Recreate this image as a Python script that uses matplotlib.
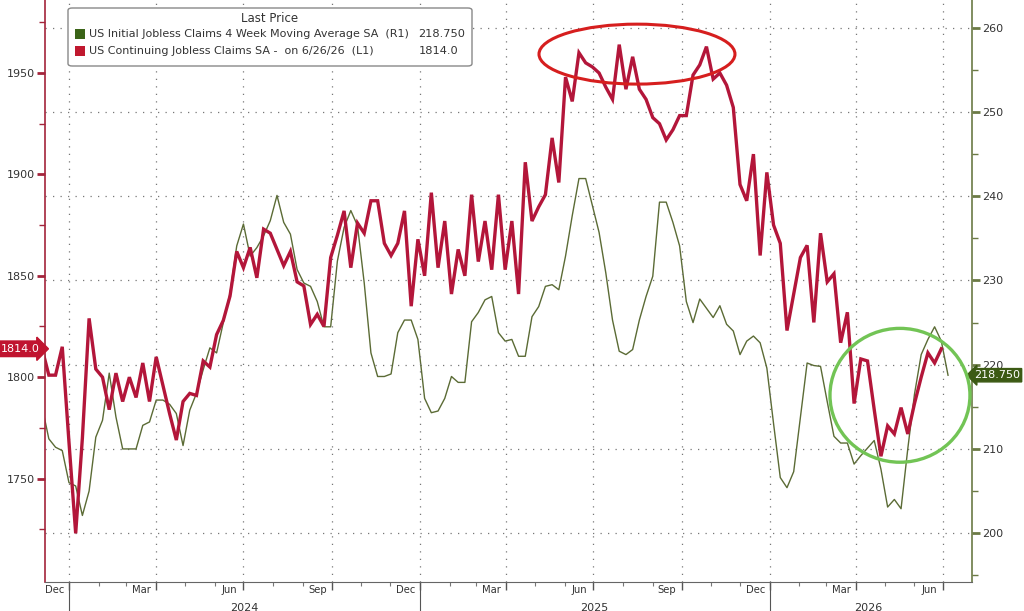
import matplotlib
matplotlib.use('Agg')
import matplotlib.pyplot as plt
import matplotlib.dates as mdates
import matplotlib.transforms as mtransforms
from matplotlib.patches import Ellipse, FancyBboxPatch, Rectangle
from matplotlib.lines import Line2D
import pandas as pd

# Weekly values (first date 2023-12-04, axis labels shown as-is)
continuing_claims = [
    1814, 1801, 1801, 1815, 1768, 1723, 1770, 1829, 1804, 1800,
    1784, 1802, 1788, 1800, 1790, 1807, 1788, 1810, 1796, 1782,
    1769, 1788, 1792, 1791, 1808, 1805, 1821, 1828, 1840, 1862,
    1854, 1864, 1849, 1873, 1871, 1863, 1855, 1862, 1847, 1845,
    1826, 1831, 1825, 1859, 1870, 1882, 1854, 1876, 1871, 1887,
    1887, 1866, 1860, 1866, 1882, 1835, 1868, 1850, 1891, 1854,
    1877, 1841, 1863, 1850, 1890, 1857, 1877, 1853, 1890, 1853,
    1877, 1841, 1906, 1877, 1884, 1890, 1918, 1896, 1948, 1936,
    1960, 1955, 1953, 1950, 1943, 1937, 1964, 1942, 1958, 1942,
    1937, 1928, 1925, 1917, 1922, 1929, 1929, 1949, 1954, 1963,
    1947, 1950, 1944, 1933, 1895, 1887, 1910, 1860, 1901, 1875,
    1866, 1823, 1841, 1859, 1865, 1827, 1871, 1847, 1851, 1817,
    1832, 1787, 1809, 1808, 1784, 1761, 1776, 1772, 1785, 1772,
    1787, 1800, 1812, 1807, 1814.0,
]

initial_claims_4wk = [
    215.0, 211.2, 210.2, 209.8, 206.0, 205.6, 202.1, 205.0, 211.4, 213.4,
    219.0, 213.8, 210.0, 210.0, 210.0, 212.8, 213.2, 215.8, 215.8, 215.3,
    214.2, 210.4, 214.6, 216.6, 219.4, 222.0, 221.4, 225.0, 228.5, 234.1,
    236.7, 232.9, 233.9, 235.3, 237.1, 240.1, 236.9, 235.5, 231.3, 229.7,
    229.3, 227.5, 224.5, 224.5, 232.3, 236.3, 238.3, 236.5, 229.7, 221.4,
    218.6, 218.6, 218.9, 223.8, 225.3, 225.3, 223.0, 216.0, 214.3, 214.5,
    216.0, 218.6, 217.9, 217.9, 225.1, 226.2, 227.7, 228.1, 223.8, 222.8,
    223.0, 221.0, 221.0, 225.7, 226.9, 229.3, 229.5, 228.9, 232.9, 237.7,
    242.1, 242.1, 238.9, 235.7, 230.9, 225.3, 221.6, 221.2, 221.8, 225.3,
    228.1, 230.5, 239.3, 239.3, 236.9, 234.1, 227.5, 225.0, 227.8, 226.7,
    225.6, 227.0, 224.8, 224.0, 221.2, 222.8, 223.4, 222.6, 219.6, 213.0,
    206.6, 205.4, 207.3, 213.8, 220.2, 219.9, 219.8, 215.6, 211.5, 210.7,
    210.7, 208.2, 209.2, 210.1, 211.0, 207.6, 203.1, 204.0, 202.9, 210.0,
    216.5, 221.2, 223.0, 224.5, 222.8, 218.75,
]

red_dates = pd.date_range('2023-12-04', periods=len(continuing_claims), freq='7D')
green_dates = pd.date_range('2023-12-04', periods=len(initial_claims_4wk), freq='7D')

month_labels = ['Dec', 'Mar', 'Jun', 'Sep', 'Dec', 'Mar', 'Jun', 'Sep', 'Dec', 'Mar', 'Jun']
month_label_dates = ['2023-12-17', '2024-03-17', '2024-06-16', '2024-09-16', '2024-12-17',
                     '2025-03-17', '2025-06-16', '2025-09-16', '2025-12-17', '2026-03-17',
                     '2026-06-16']
year_labels = ['2024', '2025', '2026']
year_label_dates = ['2024-07-02', '2025-07-02', '2026-04-14']
year_starts = ['2024-01-01', '2025-01-01', '2026-01-01']

red = '#b3163a'
red_axis = '#a3243b'
green = '#5b6b35'
green_axis = '#6b7a45'
txt = '#333333'

plt.rcParams['font.family'] = ['DejaVu Sans']

fig = plt.figure(figsize=(10.24, 6.11), dpi=100)
W, H = 1024, 611
ax = fig.add_axes([45 / W, 1 - 582 / H, 927 / W, 582 / H])
ax2 = ax.twinx()

# red on top of green
ax.set_zorder(ax2.get_zorder() + 1)
ax.patch.set_visible(False)

ax2.plot(green_dates, initial_claims_4wk, color=green, lw=1.0)
ax.plot(red_dates, continuing_claims, color=red, lw=2.4, solid_joinstyle='miter')

ax.set_xlim(pd.Timestamp('2023-12-07'), pd.Timestamp('2026-07-31'))
ax.set_ylim(1699, 1986)
ax2.set_ylim(194.2, 263.3)

# left axis
ax.set_yticks([1750, 1800, 1850, 1900, 1950])
ax.set_yticks([1725, 1775, 1825, 1875, 1925, 1975], minor=True)
ax.tick_params(axis='y', which='major', colors=red_axis, length=6, width=2, labelsize=8,
               labelcolor=txt, pad=1)
ax.tick_params(axis='y', which='minor', colors=red_axis, length=4, width=1)

# right axis
ax2.set_yticks([200, 210, 220, 230, 240, 250, 260])
ax2.set_yticks([195, 205, 215, 225, 235, 245, 255], minor=True)
ax2.tick_params(axis='y', which='major', colors=green_axis, length=6, width=2, labelsize=8,
                labelcolor=txt, pad=1)
ax2.tick_params(axis='y', which='minor', colors=green_axis, length=4, width=1)
ax2.grid(True, axis='y', linestyle=(0, (1, 5)), color='#777777', lw=0.9)

# x axis: quarter gridlines, month minor ticks, labels in between
ax.xaxis.set_major_locator(mdates.MonthLocator(bymonth=[1, 4, 7, 10]))
ax.xaxis.set_minor_locator(mdates.MonthLocator())
ax.xaxis.set_major_formatter(plt.NullFormatter())
ax.tick_params(axis='x', which='major', length=6, width=1, colors='#555555')
ax.tick_params(axis='x', which='minor', length=3, width=0.8, colors='#777777')
ax.grid(True, axis='x', linestyle=(0, (1, 5)), color='#777777', lw=0.9)

for s in ['top']:
    ax.spines[s].set_visible(False)
    ax2.spines[s].set_visible(False)
ax.spines['left'].set_color(red_axis)
ax.spines['left'].set_linewidth(1.2)
ax.spines['bottom'].set_color('#666666')
ax.spines['right'].set_visible(False)
ax2.spines['left'].set_visible(False)
ax2.spines['bottom'].set_visible(False)
ax2.spines['right'].set_color(green_axis)
ax2.spines['right'].set_linewidth(1.2)

bx = mtransforms.blended_transform_factory(ax.transData, ax.transAxes)
for lab, d in zip(month_labels, month_label_dates):
    ax.text(pd.Timestamp(d), -0.005, lab, transform=bx, ha='center', va='top',
            fontsize=8, color=txt, stretch='condensed')
for lab, d in zip(year_labels, year_label_dates):
    ax.text(pd.Timestamp(d), -0.036, lab, transform=bx, ha='center', va='top',
            fontsize=8, color=txt)
for d in year_starts:
    ax.add_line(Line2D([mdates.date2num(pd.Timestamp(d))] * 2, [0, -0.06], transform=bx,
                       color='#555555', lw=0.8, clip_on=False))

# last value tags
tl = mtransforms.blended_transform_factory(fig.transFigure, ax.transData)
ax.text(1 / W, continuing_claims[-1], '1814.0', transform=tl, ha='left', va='center',
        fontsize=8, color='white',
        bbox=dict(boxstyle='rarrow,pad=0.25', fc='#c0142f', ec='#c0142f'))
tr = mtransforms.blended_transform_factory(fig.transFigure, ax2.transData)
ax2.text(1020 / W, initial_claims_4wk[-1], '218.750', transform=tr, ha='right', va='center',
         fontsize=8, color='white',
         bbox=dict(boxstyle='larrow,pad=0.15', fc='#3c5a14', ec='#3c5a14'))

# highlight shapes
ax.add_patch(Ellipse((0.6386, 0.907), 0.2114, 0.103, transform=ax.transAxes,
                     fill=False, ec='#d61e1e', lw=2.2, zorder=5))
ax.add_patch(Ellipse((0.9223, 0.3208), 0.151, 0.230, transform=ax.transAxes,
                     fill=False, ec='#72c455', lw=2.4, zorder=5))

# legend box
def fx(px):
    return px / W

def fy(py):
    return 1 - py / H

fig.add_artist(FancyBboxPatch((fx(68), fy(66)), fx(472) - fx(68), fy(8) - fy(66),
                              boxstyle='round,pad=0,rounding_size=0.004',
                              transform=fig.transFigure, fc='white', ec='#888888', lw=1.0,
                              zorder=10))
fig.text(fx(270), fy(18), 'Last Price', ha='center', va='center', fontsize=8.5, color=txt,
         zorder=11)
fig.add_artist(Rectangle((fx(75), fy(39)), fx(10), 10 / H, transform=fig.transFigure,
                         fc='#3b6418', ec='none', zorder=11))
fig.add_artist(Rectangle((fx(75), fy(56)), fx(10), 10 / H, transform=fig.transFigure,
                         fc='#c0182f', ec='none', zorder=11))
fig.text(fx(89), fy(34), 'US Initial Jobless Claims 4 Week Moving Average SA  (R1)',
         ha='left', va='center', fontsize=8, color=txt, zorder=11)
fig.text(fx(465), fy(34), '218.750', ha='right', va='center', fontsize=8.2, color=txt, zorder=11)
fig.text(fx(89), fy(51), 'US Continuing Jobless Claims SA -  on 6/26/26  (L1)',
         ha='left', va='center', fontsize=8, color=txt, zorder=11)
fig.text(fx(459), fy(51), '1814.0', ha='right', va='center', fontsize=8.2, color=txt, zorder=11)

fig.savefig('out.png', dpi=100)
